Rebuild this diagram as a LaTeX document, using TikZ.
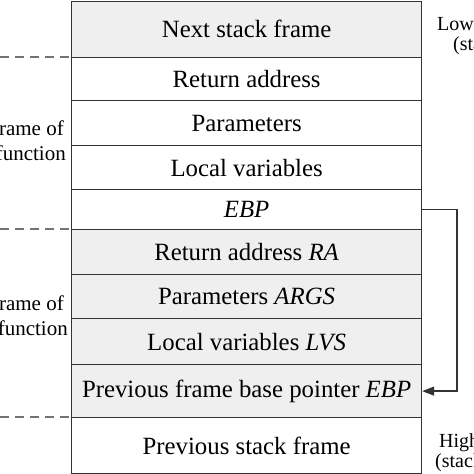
\documentclass[tikz,border=0pt]{standalone}
\usepackage{fontspec}
\setmainfont{Liberation Serif}
\usetikzlibrary{arrows.meta}
\definecolor{rowgray}{HTML}{EFEFEF}
\definecolor{edge}{HTML}{333333}
\begin{document}
\begin{tikzpicture}[x=1pt,y=1pt,
  row/.style={draw=edge, line width=1.2pt, minimum width=350pt, inner sep=0pt, anchor=north west,
    font=\fontsize{24.8pt}{28pt}\selectfont},
  grayrow/.style={row, fill=rowgray},
  leftlab/.style={inner sep=0pt, anchor=base east, font=\fontsize{21pt}{25pt}\selectfont},
  rightlab/.style={inner sep=0pt, anchor=base west, font=\fontsize{20pt}{20pt}\selectfont},
  sep/.style={draw=black!55, line width=1.2pt, dash pattern=on 9pt off 6pt},
  link/.style={draw=edge, line width=1.3pt, -{Triangle[length=12pt,width=9pt]}}]
\useasboundingbox (0,0) rectangle (474,-474);
\node[grayrow, minimum height=56.5pt] (r1) at (71,-0.5) {Next stack frame};
\node[row, minimum height=43pt] (r2) at (71,-57) {Return address};
\node[row, minimum height=45pt] (r3) at (71,-100) {Parameters};
\node[row, minimum height=44pt] (r4) at (71,-145) {Local variables};
\node[row, minimum height=40pt] (r5) at (71,-189) {\textit{EBP}};
\node[grayrow, minimum height=45pt] (r6) at (71,-229) {Return address \textit{RA}};
\node[grayrow, minimum height=44pt] (r7) at (71,-274) {Parameters \textit{ARGS}};
\node[grayrow, minimum height=46pt] (r8) at (71,-318) {Local variables \textit{LVS}};
\node[grayrow, minimum height=53pt] (r9) at (71,-364) {Previous frame base pointer \textit{EBP}};
\node[row, minimum height=56pt] (r10) at (71,-417) {Previous stack frame};
% dashed separators
\coordinate (d1) at (0,-57);
\coordinate (d2) at (0,-229);
\coordinate (d3) at (0,-417);
\draw[sep] (d1) -- (r2.north west);
\draw[sep] (d2) -- (r6.north west);
\draw[sep] (d3) -- (r10.north west);
% left labels (clipped by page)
\node[leftlab] (l1) at (64,-135) {frame of};
\node[leftlab] (l2) at (66,-160) {function};
\node[leftlab] (l3) at (64,-310) {frame of};
\node[leftlab] (l4) at (68,-335) {function};
% right labels (clipped by page)
\node[rightlab] (t1) at (437,-30) {Lower address};
\node[rightlab] (t2) at (453,-50) {(stack top)};
\node[rightlab] (t3) at (439,-447) {High address};
\node[rightlab] (t4) at (435,-467) {(stack bottom)};
% EBP link
\coordinate (turn) at (457,0);
\draw[link] (r5.east) -- (r5.east -| turn) |- (r9.east);
\end{tikzpicture}
\end{document}
